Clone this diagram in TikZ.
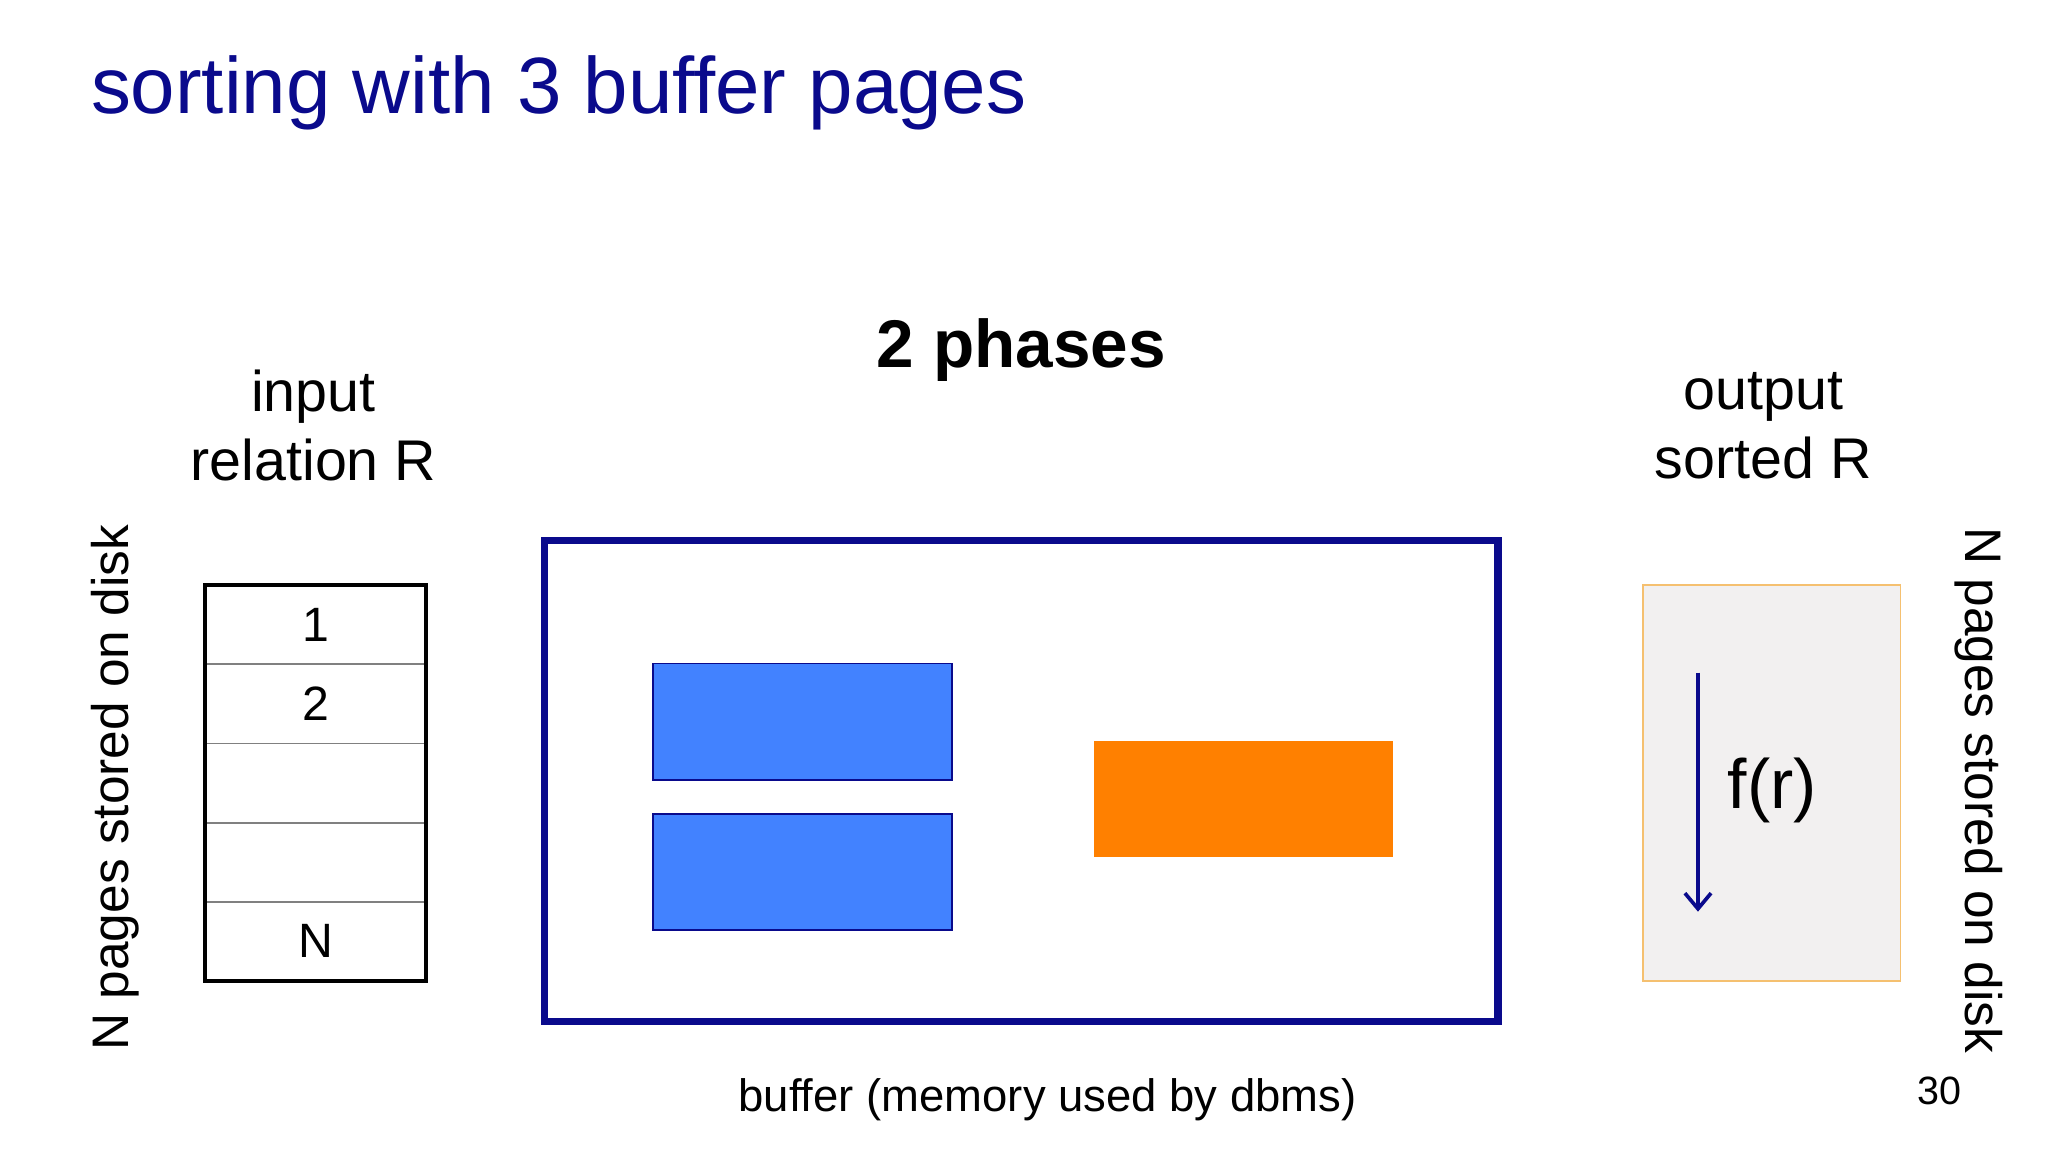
\documentclass[tikz,border=0pt]{standalone}
\usepackage{fontspec}
\setmainfont{Liberation Sans}
\usetikzlibrary{positioning,arrows.meta}
\definecolor{titleblue}{RGB}{10,10,140}
\definecolor{pageblue}{RGB}{66,130,255}
\definecolor{pageorange}{RGB}{255,128,0}
\definecolor{outfill}{RGB}{242,240,240}
\definecolor{outline}{RGB}{245,192,112}
\tikzset{
  page/.style={draw=titleblue, minimum width=2.29cm, minimum height=0.89cm, inner sep=0pt},
  slot/.style={draw=gray, minimum width=1.69cm, minimum height=0.606cm, inner sep=0pt, font=\fontsize{10.5}{13}\selectfont},
  label/.style={align=center, font=\fontsize{12.5}{15}\selectfont}
}
\begin{document}
\begin{tikzpicture}
    \useasboundingbox (0,0) rectangle (15.68,8.82);
    % title
    \node[anchor=base west, text=titleblue, font=\fontsize{17.4}{20}\selectfont, inner sep=0pt] (title) at (0.69,7.95) {sorting with 3 buffer pages};
    \node[font=\fontsize{14.7}{17}\selectfont\bfseries] (phases) at (7.82,6.14) {2 phases};
    \node[label] (inlabel) at (2.40,5.56) {input\\relation R};
    \node[label] (outlabel) at (13.50,5.56) {output\\sorted R};

    % input relation
    \foreach \i/\t in {1/1,2/2,3/,4/,5/N}
        \node[slot] (row\i) at (2.415,{4.037-(\i-1)*0.606}) {\t};
    \draw[thick] (1.57,1.31) rectangle (3.26,4.34);
    \node[rotate=90, font=\fontsize{11.2}{14}\selectfont] (leftside) at (0.88,2.79) {N pages stored on disk};

    % buffer
    \node[draw=titleblue, line width=1.6pt, minimum width=7.30cm, minimum height=3.68cm, inner sep=0pt] (buffer) at (7.82,2.84) {};
    \node[page, fill=pageblue] (pageA) at (6.145,3.295) {};
    \node[page, fill=pageblue] (pageB) at (6.145,2.145) {};
    \node[page, fill=pageorange, draw=none] (pageC) at (9.52,2.70) {};
    \node[font=\fontsize{9.9}{12}\selectfont] (bufcap) at (8.02,0.40) {buffer (memory used by dbms)};

    % output
    \node[draw=outline, fill=outfill, minimum width=1.97cm, minimum height=3.03cm, inner sep=0pt] (output) at (13.565,2.825) {};
    \coordinate (top) at (13.00,3.67);
    \coordinate (bot) at (13.00,1.84);
    \draw[titleblue, thick, -{Straight Barb[length=1.2mm,width=2mm]}] (top) -- (bot);
    \node[font=\fontsize{15.2}{18}\selectfont] (fr) at (13.57,2.77) {f(r)};
    \node[rotate=-90, font=\fontsize{11.2}{14}\selectfont] (rightside) at (15.15,2.77) {N pages stored on disk};
    \node[font=\fontsize{8.6}{10}\selectfont] (num) at (14.85,0.47) {30};
\end{tikzpicture}
\end{document}
